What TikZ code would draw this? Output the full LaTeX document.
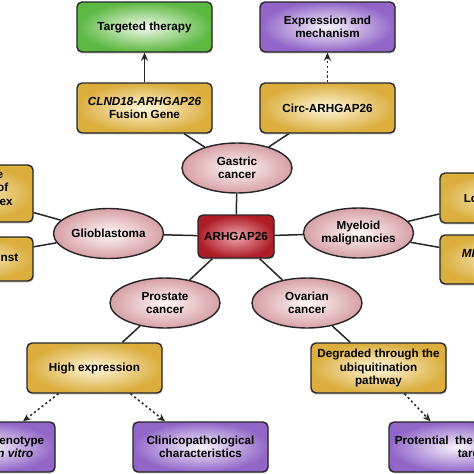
\documentclass[tikz,border=0pt]{standalone}
\usepackage{fontspec}
\setmainfont{Liberation Sans}
\usetikzlibrary{shapes.geometric, arrows.meta, shadows}

\definecolor{goldedge}{HTML}{DBAE3E}
\definecolor{goldcore}{HTML}{FFF7DC}
\definecolor{greenedge}{HTML}{5DB842}
\definecolor{greencore}{HTML}{F2FAEC}
\definecolor{violetedge}{HTML}{9166C8}
\definecolor{violetcore}{HTML}{F8F4FC}
\definecolor{rededge}{HTML}{AE1C26}
\definecolor{redcore}{HTML}{EFA7AB}
\definecolor{pinkedge}{HTML}{D6A0A6}
\definecolor{pinkcore}{HTML}{FFF7F7}
\definecolor{rim}{HTML}{262626}

\begin{document}
\begin{tikzpicture}[x=1pt, y=-1pt, line width=1.5pt,
  every node/.style={font=\bfseries\fontsize{11.7}{13.6}\selectfont},
  card/.style={rectangle, rounded corners=5pt, draw=rim, line width=1.4pt,
    minimum width=135, minimum height=50, align=center, inner sep=2pt,
    drop shadow={shadow xshift=0.6pt, shadow yshift=-1.6pt, opacity=0.3}},
  goldcard/.style={card, inner color=goldcore, outer color=goldedge},
  greencard/.style={card, inner color=greencore, outer color=greenedge},
  violetcard/.style={card, inner color=violetcore, outer color=violetedge},
  hubcard/.style={card, minimum width=76, minimum height=43,
    inner color=redcore, outer color=rededge},
  disease/.style={ellipse, draw=rim, line width=1.4pt, minimum width=110,
    minimum height=50, inner sep=0pt, align=center,
    inner color=pinkcore, outer color=pinkedge},
  cut/.style={inner sep=0pt},
  link/.style={draw=rim},
  solidarrow/.style={draw=rim, -{Stealth[length=8pt, width=7pt]}},
  dotarrow/.style={draw=rim, dash pattern=on 2.2pt off 2.6pt,
    -{Stealth[length=8pt, width=7pt]}}]
  \useasboundingbox (0,0) rectangle (474,474);
  \clip (0,0) rectangle (474,474);

  % gastric branch
  \node[greencard] (therapy) at (144.5,27) {Targeted therapy};
  \node[goldcard] (fusion) at (144.5,108) {\textit{CLND18-ARHGAP26}\\Fusion Gene};
  \node[violetcard] (mechanism) at (327.5,27) {Expression and\\mechanism};
  \node[goldcard] (circ) at (327.5,108) {Circ-ARHGAP26};
  \node[disease] (gastric) at (237,168) {Gastric\\cancer};

  % centre
  \node[hubcard] (hub) at (236,236.5) {ARHGAP26};

  % glioblastoma branch (cut at the left edge)
  \node[disease] (glio) at (108.5,233.5) {Glioblastoma};
  \node[goldcard, minimum height=57] (glioA) at (-34.5,193.5) {};
  \node[goldcard, minimum height=44] (glioB) at (-34.5,259) {};
  \node[cut, anchor=base east] (glioAa) at (4,178) {e};
  \node[cut, anchor=base east] (glioAb) at (9,191.5) {of};
  \node[cut, anchor=base east] (glioAc) at (13.5,205) {ex};
  \node[cut, anchor=base east] (glioBa) at (19,261) {nst};

  % myeloid branch (cut at the right edge)
  \node[disease] (myeloid) at (358.5,233) {Myeloid\\malignancies};
  \node[goldcard] (myeA) at (507.5,198) {};
  \node[goldcard, minimum height=49] (myeB) at (507.5,259.5) {};
  \node[cut, anchor=base west] (myeAa) at (463,202) {Lo};
  \node[cut, anchor=base west] (myeBa) at (461,257) {\textit{MI}};

  % prostate and ovarian branches
  \node[disease] (prostate) at (165,303) {Prostate\\cancer};
  \node[disease] (ovarian) at (307,303) {Ovarian\\cancer};
  \node[goldcard] (high) at (94.5,368) {High expression};
  \node[goldcard] (degraded) at (378.5,368) {Degraded through the\\ubiquitination\\pathway};
  \node[violetcard] (phenotype) at (-12.5,447) {};
  \node[cut, anchor=base east] (phenoa) at (45,444) {enotype};
  \node[cut, anchor=base east] (phenob) at (34,457) {\textit{n vitro}};
  \node[violetcard] (clin) at (200.5,447) {Clinicopathological\\characteristics};
  \node[violetcard] (potential) at (456.5,447) {};
  \node[cut, anchor=base west] (potena) at (394,444) {Protential\ \ the};
  \node[cut, anchor=base west] (potenb) at (457,457) {target};

  % connectors
  \draw[link] (gastric) -- (fusion);
  \draw[link] (gastric) -- (circ);
  \draw[link] (gastric) -- (hub);
  \draw[link] (glio) -- (hub);
  \draw[link] (myeloid) -- (hub);
  \draw[link] (prostate) -- (hub);
  \draw[link] (ovarian) -- (hub);
  \draw[link] (glio) -- (glioA);
  \draw[link] (glio) -- (glioB);
  \draw[link] (myeloid) -- (myeA);
  \draw[link] (myeloid) -- (myeB);
  \draw[link] (prostate) -- (high);
  \draw[link] (ovarian) -- (degraded);
  \draw[solidarrow] (fusion) -- (therapy);
  \draw[dotarrow] (circ) -- (mechanism);
  \draw[dotarrow] ([xshift=-36pt]high.south) -- ([xshift=35.5pt]phenotype.north);
  \draw[dotarrow] ([xshift=36pt]high.south) -- ([xshift=-35.5pt]clin.north);
  \draw[dotarrow] ([xshift=26pt]degraded.south) -- ([xshift=-26pt]potential.north);
\end{tikzpicture}
\end{document}
